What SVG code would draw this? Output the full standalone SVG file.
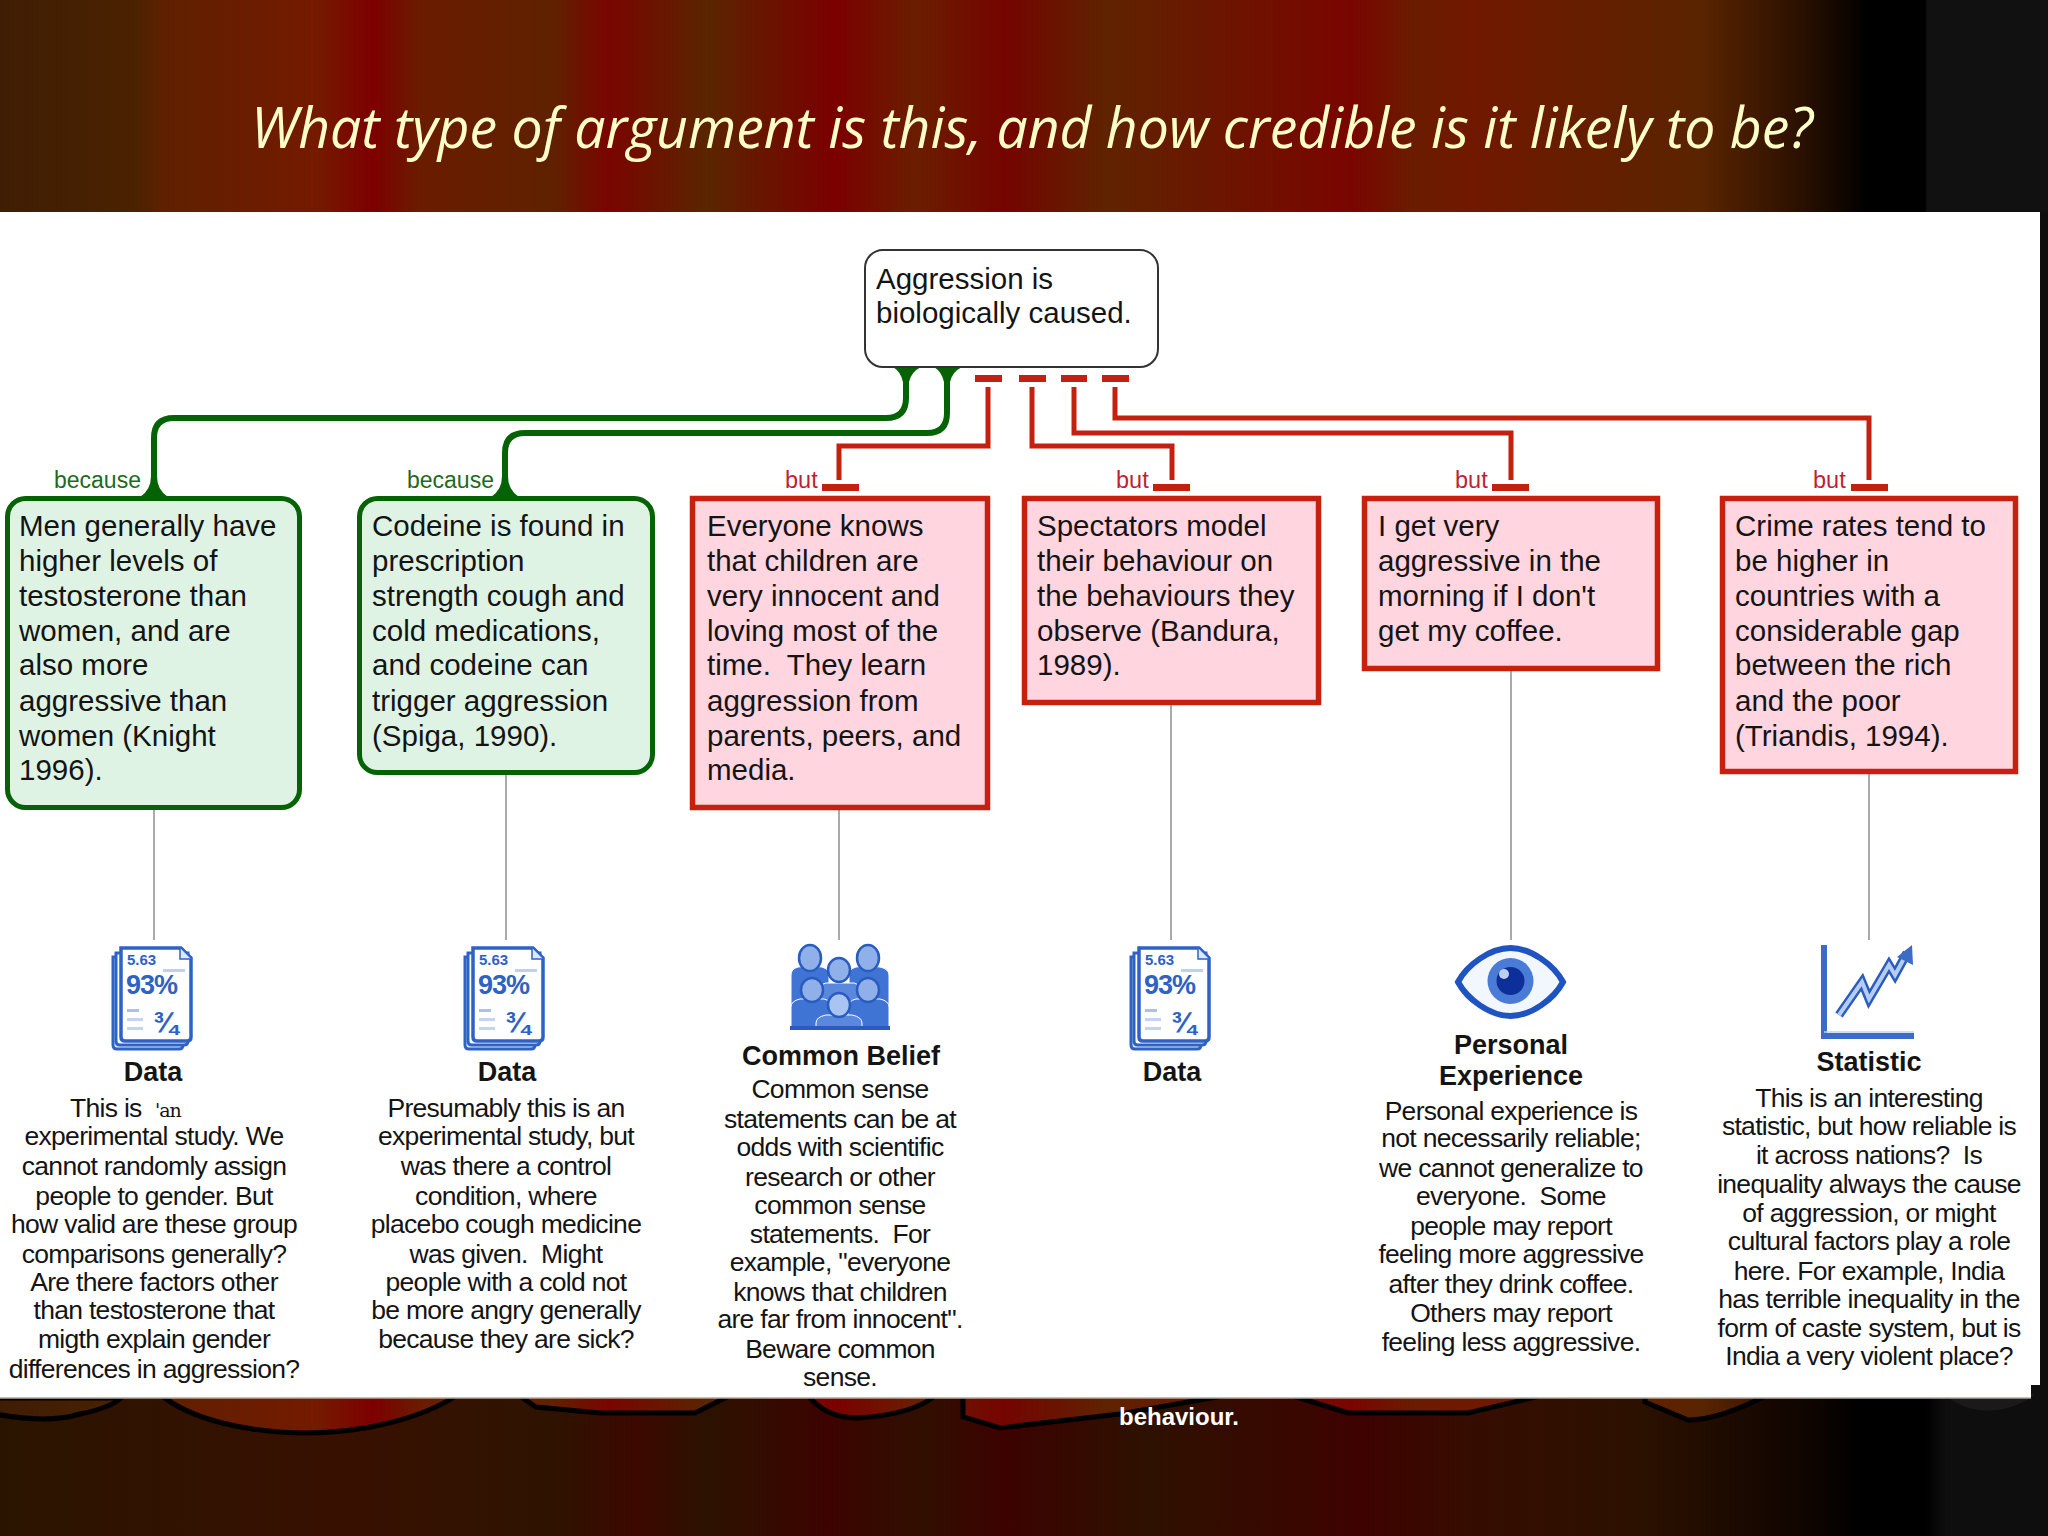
<svg xmlns="http://www.w3.org/2000/svg" xmlns:xlink="http://www.w3.org/1999/xlink" width="2048" height="1536" viewBox="0 0 2048 1536">
<style>
.boxt{font:29.5px "Liberation Sans",Arial,sans-serif;fill:#141414}
.desc{font:26.5px "Liberation Sans",Arial,sans-serif;fill:#141414;text-anchor:middle;letter-spacing:-.7px}
.ttl{font:bold 27px "Liberation Sans",Arial,sans-serif;fill:#141414;text-anchor:middle}
.because{font:23px "Liberation Sans",Arial,sans-serif;fill:#1d6b1d}
.but{font:23.5px "Liberation Sans",Arial,sans-serif;fill:#c01f35}
.g{fill:none;stroke:#056305;stroke-width:5}
.gh{fill:none;stroke:#056305;stroke-width:6}
.r{fill:none;stroke:#c3200f;stroke-width:5}
.rb{fill:#c3200f}
.gl{stroke:#aaa;stroke-width:2}
.gbox{fill:#dff3e4;stroke:#056305;stroke-width:5}
.rbox{fill:#ffd5df;stroke:#c8200f;stroke-width:5.5}
.sc{stroke:#000;stroke-width:5;fill:url(#bright)}
.ic{font-family:"Liberation Sans",Arial,sans-serif;font-weight:bold;fill:#2e62c4}
</style>
<defs>
<linearGradient id="bright" gradientUnits="userSpaceOnUse" x1="0" y1="0" x2="2048" y2="0">
<stop offset="0" stop-color="#3f1d04"/><stop offset=".065" stop-color="#4a2200"/><stop offset=".08" stop-color="#5f2000"/><stop offset=".155" stop-color="#741a00"/><stop offset=".182" stop-color="#7d0000"/><stop offset=".205" stop-color="#6a1c00"/><stop offset=".27" stop-color="#5f2100"/><stop offset=".297" stop-color="#7a0500"/><stop offset=".345" stop-color="#5a2500"/><stop offset=".408" stop-color="#7b0000"/><stop offset=".447" stop-color="#6a1e00"/><stop offset=".49" stop-color="#750400"/><stop offset=".54" stop-color="#5f2300"/><stop offset=".66" stop-color="#7a0500"/><stop offset=".69" stop-color="#6a1c00"/><stop offset=".72" stop-color="#701800"/><stop offset=".83" stop-color="#5a2400"/><stop offset=".88" stop-color="#2a1000"/><stop offset=".912" stop-color="#000"/><stop offset=".94" stop-color="#000"/><stop offset=".941" stop-color="#111"/><stop offset="1" stop-color="#111"/>
</linearGradient>
<linearGradient id="dark" gradientUnits="userSpaceOnUse" x1="0" y1="0" x2="2048" y2="0">
<stop offset="0" stop-color="#2a1400"/><stop offset=".17" stop-color="#381000"/><stop offset=".27" stop-color="#2e1300"/><stop offset=".31" stop-color="#3c0800"/><stop offset=".345" stop-color="#2c1200"/><stop offset=".405" stop-color="#3c0300"/><stop offset=".45" stop-color="#300f00"/><stop offset=".49" stop-color="#3c0200"/><stop offset=".56" stop-color="#2e1100"/><stop offset=".665" stop-color="#3e0200"/><stop offset=".72" stop-color="#350d00"/><stop offset=".8" stop-color="#2c1100"/><stop offset=".88" stop-color="#100500"/><stop offset=".91" stop-color="#000"/><stop offset=".94" stop-color="#000"/><stop offset=".95" stop-color="#0e0e0e"/><stop offset="1" stop-color="#0e0e0e"/>
</linearGradient>
<symbol id="dataIcon" viewBox="0 0 80 104" width="80" height="104" overflow="visible">
<path d="M0 12V100Q0 104 4 104H66Q70 104 70 100V12Z" fill="#dfe8f8" stroke="#2e62c4" stroke-width="3"/>
<path d="M3 8V96Q3 100 7 100H71Q75 100 75 96V8Z" fill="#fff" stroke="#2e62c4" stroke-width="3"/>
<path d="M8 3H68L78 13V92Q78 96 74 96H12Q8 96 8 92Z" fill="#fff" stroke="#2e62c4" stroke-width="3.5"/>
<path d="M67 3V14H78" fill="#dfe8f8" stroke="#2e62c4" stroke-width="1.5"/>
<text class="ic" x="14" y="20" font-size="15">5.63</text>
<rect x="50" y="24" width="22" height="3" fill="#bcd0f0"/>
<text class="ic" x="13" y="49" font-size="27" letter-spacing="-1">93%</text>
<text class="ic" x="40" y="88" font-size="30">¾</text>
<rect x="14" y="64" width="12" height="3" fill="#a9c2ec"/><rect x="14" y="73" width="16" height="3" fill="#c4d5f2"/><rect x="14" y="82" width="16" height="3" fill="#c4d5f2"/>
</symbol>
</defs>

<g id="background">
<rect x="0" y="0" width="2048" height="1536" fill="url(#dark)"/>
<rect x="0" y="0" width="2048" height="212" fill="url(#bright)"/>
<path class="sc" d="M-5 1398V1414Q48 1424 80 1414Q110 1408 121 1398Z"/>
<path class="sc" d="M160 1394C190 1420 250 1433 306 1433C360 1433 420 1420 459 1394Z"/>
<path class="sc" d="M517 1394L536 1407L600 1413H695L733 1394Z"/>
<path class="sc" d="M807 1394C820 1412 840 1418 858 1418C890 1416 920 1410 937 1394Z"/>
<path class="sc" d="M963 1394V1417L1000 1428L1120 1414L1234 1394Z"/>
<path class="sc" d="M1287 1394L1348 1413H1468L1548 1394Z"/>
<path class="sc" d="M1645 1394V1402L1688 1420Q1720 1420 1769 1394Z"/>
<path d="M1945 1394C1965 1416 2010 1416 2035 1394Z" fill="#1a1a1a"/>
<text x="1135" y="1389" font-family="'Liberation Sans',Arial,sans-serif" font-weight="bold" font-size="24" fill="#fff">gg</text>
<text x="1119" y="1425" font-family="'Liberation Sans',Arial,sans-serif" font-weight="bold" font-size="24" fill="#fff">behaviour.</text>
<path d="M0 212H2040V1385H2031V1398H0Z" fill="#fff"/>
<path d="M0 1398H2031" stroke="#b5a9a0" stroke-width="1.5"/>
</g>

<text id="title" x="251" y="148" font-family="'Open Sans','Noto Sans',sans-serif" font-style="italic" font-size="56" fill="#ffffc8" textLength="1562" lengthAdjust="spacingAndGlyphs">What type of argument is this, and how credible is it likely to be?</text>

<g id="connectors">
<path class="gh" d="M906 378V398Q906 418 886 418H174Q154 418 154 438V490"/>
<path class="gh" d="M947 378V413Q947 433 927 433H525Q505 433 505 453V490"/>
<path fill="#056305" d="M893 367H921Q911 372 909 382H903Q901 372 893 367ZM934 367H962Q952 372 950 382H944Q942 372 934 367Z"/>
<path fill="#056305" d="M140 497Q151 490 151 476H157Q157 490 168 497ZM491 497Q502 490 502 476H508Q508 490 519 497Z"/>
<path class="r" d="M988 387V446H839V480"/>
<path class="r" d="M1032 387V446H1172V480"/>
<path class="r" d="M1074 387V433H1511V480"/>
<path class="r" d="M1115 387V418H1869V480"/>
<rect class="rb" x="975" y="375" width="27" height="7"/><rect class="rb" x="1019" y="375" width="27" height="7"/><rect class="rb" x="1061" y="375" width="26" height="7"/><rect class="rb" x="1102" y="375" width="27" height="7"/>
<rect class="rb" x="822" y="484" width="37" height="7"/><rect class="rb" x="1153" y="484" width="37" height="7"/><rect class="rb" x="1492" y="484" width="37" height="7"/><rect class="rb" x="1851" y="484" width="37" height="7"/>
<line class="gl" x1="154" y1="810" x2="154" y2="940"/><line class="gl" x1="506" y1="775" x2="506" y2="940"/><line class="gl" x1="839" y1="810" x2="839" y2="940"/><line class="gl" x1="1171" y1="705" x2="1171" y2="940"/><line class="gl" x1="1511" y1="671" x2="1511" y2="940"/><line class="gl" x1="1869" y1="774" x2="1869" y2="940"/>
<text class="because" x="54" y="488">because</text><text class="because" x="407" y="488">because</text>
<text class="but" x="785" y="488">but</text><text class="but" x="1116" y="488">but</text><text class="but" x="1455" y="488">but</text><text class="but" x="1813" y="488">but</text>
</g>

<g id="root">
<rect x="865" y="250" width="293" height="117" rx="18" fill="#fff" stroke="#333" stroke-width="2"/>
<text class="boxt" x="876" y="289">Aggression is</text>
<text class="boxt" x="876" y="323">biologically caused.</text>
</g>

<g id="node-1">
<rect class="gbox" x="7.5" y="498.5" width="292" height="309" rx="18"/>
<text class="boxt" x="19" y="536">Men generally have</text><text class="boxt" x="19" y="571">higher levels of</text><text class="boxt" x="19" y="606">testosterone than</text><text class="boxt" x="19" y="641">women, and are</text><text class="boxt" x="19" y="675">also more</text><text class="boxt" x="19" y="711">aggressive than</text><text class="boxt" x="19" y="746">women (Knight</text><text class="boxt" x="19" y="780">1996).</text>
</g>
<g id="node-2">
<rect class="gbox" x="359.5" y="498.5" width="293" height="274" rx="18"/>
<text class="boxt" x="372" y="536">Codeine is found in</text><text class="boxt" x="372" y="571">prescription</text><text class="boxt" x="372" y="606">strength cough and</text><text class="boxt" x="372" y="641">cold medications,</text><text class="boxt" x="372" y="675">and codeine can</text><text class="boxt" x="372" y="711">trigger aggression</text><text class="boxt" x="372" y="746">(Spiga, 1990).</text>
</g>
<g id="node-3">
<rect class="rbox" x="692.5" y="498.5" width="295" height="309"/>
<text class="boxt" x="707" y="536">Everyone knows</text><text class="boxt" x="707" y="571">that children are</text><text class="boxt" x="707" y="606">very innocent and</text><text class="boxt" x="707" y="641">loving most of the</text><text class="boxt" x="707" y="675" xml:space="preserve">time.  They learn</text><text class="boxt" x="707" y="711">aggression from</text><text class="boxt" x="707" y="746">parents, peers, and</text><text class="boxt" x="707" y="780">media.</text>
</g>
<g id="node-4">
<rect class="rbox" x="1024.5" y="498.5" width="294" height="204"/>
<text class="boxt" x="1037" y="536">Spectators model</text><text class="boxt" x="1037" y="571">their behaviour on</text><text class="boxt" x="1037" y="606">the behaviours they</text><text class="boxt" x="1037" y="641">observe (Bandura,</text><text class="boxt" x="1037" y="675">1989).</text>
</g>
<g id="node-5">
<rect class="rbox" x="1364.5" y="498.5" width="293" height="170"/>
<text class="boxt" x="1378" y="536">I get very</text><text class="boxt" x="1378" y="571">aggressive in the</text><text class="boxt" x="1378" y="606">morning if I don't</text><text class="boxt" x="1378" y="641">get my coffee.</text>
</g>
<g id="node-6">
<rect class="rbox" x="1722.5" y="498.5" width="293" height="273"/>
<text class="boxt" x="1735" y="536">Crime rates tend to</text><text class="boxt" x="1735" y="571">be higher in</text><text class="boxt" x="1735" y="606">countries with a</text><text class="boxt" x="1735" y="641">considerable gap</text><text class="boxt" x="1735" y="675">between the rich</text><text class="boxt" x="1735" y="711">and the poor</text><text class="boxt" x="1735" y="746">(Triandis, 1994).</text>
</g>

<g id="basis-1">
<use href="#dataIcon" x="113" y="945"/>
<text class="ttl" x="153" y="1081">Data</text>
<text class="desc" x="70" y="1117" style="text-anchor:start">This is</text><text x="155" y="1117" font-family="'DejaVu Serif',serif" font-size="19" letter-spacing="-1" fill="#141414">'an</text>
<text class="desc" x="154" y="1145">experimental study.  We</text><text class="desc" x="154" y="1175">cannot randomly assign</text><text class="desc" x="154" y="1205">people to gender.  But</text><text class="desc" x="154" y="1233">how valid are these group</text><text class="desc" x="154" y="1263">comparisons generally?</text><text class="desc" x="154" y="1291">Are there factors other</text><text class="desc" x="154" y="1319">than testosterone that</text><text class="desc" x="154" y="1348">migth explain gender</text><text class="desc" x="154" y="1378">differences in aggression?</text>
</g>
<g id="basis-2">
<use href="#dataIcon" x="465" y="945"/>
<text class="ttl" x="507" y="1081">Data</text>
<text class="desc" x="506" y="1117">Presumably this is an</text><text class="desc" x="506" y="1145">experimental study, but</text><text class="desc" x="506" y="1175">was there a control</text><text class="desc" x="506" y="1205">condition, where</text><text class="desc" x="506" y="1233">placebo cough medicine</text><text class="desc" x="506" y="1263" xml:space="preserve">was given.  Might</text><text class="desc" x="506" y="1291">people with a cold not</text><text class="desc" x="506" y="1319">be more angry generally</text><text class="desc" x="506" y="1348">because they are sick?</text>
</g>
<g id="basis-3">
<g transform="translate(790 945)" stroke="#fff" stroke-width="1">
<path d="M1 62V30Q1 24 8 22Q20 20 32 22Q39 24 39 30V62Z" fill="#3f73d4"/>
<path d="M59 62V30Q59 24 66 22Q78 20 90 22Q99 24 99 30V62Z" fill="#3f73d4"/>
<ellipse cx="20" cy="13" rx="11" ry="13" fill="#8fb0e8" stroke="#2a5cc0" stroke-width="2.5"/><ellipse cx="78" cy="13" rx="11" ry="13" fill="#8fb0e8" stroke="#2a5cc0" stroke-width="2.5"/>
<path d="M28 62V46Q28 40 36 38H64Q71 40 71 46V62Z" fill="#5a88dc"/>
<ellipse cx="49" cy="25" rx="11" ry="12" fill="#8fb0e8" stroke="#2a5cc0" stroke-width="2.5"/>
<path d="M1 85V62Q1 56 10 54H34Q42 56 42 62V85Z" fill="#3f73d4"/><path d="M58 85V62Q58 56 66 54H90Q99 56 99 62V85Z" fill="#3f73d4"/>
<ellipse cx="22" cy="45" rx="11" ry="12" fill="#8fb0e8" stroke="#2a5cc0" stroke-width="2.5"/><ellipse cx="78" cy="45" rx="11" ry="12" fill="#8fb0e8" stroke="#2a5cc0" stroke-width="2.5"/>
<path d="M26 85V78Q26 72 36 70H62Q72 72 72 78V85Z" fill="#5a88dc"/>
<ellipse cx="49" cy="60" rx="11" ry="12" fill="#a9c4f0" stroke="#2a5cc0" stroke-width="2.5"/>
<rect x="0" y="81" width="100" height="4" fill="#2a5cc0" stroke="none"/>
</g>
<text class="ttl" x="841" y="1065">Common Belief</text>
<text class="desc" x="840" y="1098">Common sense</text><text class="desc" x="840" y="1128">statements can be at</text><text class="desc" x="840" y="1156">odds with scientific</text><text class="desc" x="840" y="1186">research or other</text><text class="desc" x="840" y="1214">common sense</text><text class="desc" x="840" y="1243" xml:space="preserve">statements.  For</text><text class="desc" x="840" y="1271">example, "everyone</text><text class="desc" x="840" y="1301">knows that children</text><text class="desc" x="840" y="1328">are far from innocent".</text><text class="desc" x="840" y="1358">Beware common</text><text class="desc" x="840" y="1386">sense.</text>
</g>
<g id="basis-4">
<use href="#dataIcon" x="1131" y="945"/>
<text class="ttl" x="1172" y="1081">Data</text>
</g>
<g id="basis-5">
<g transform="translate(1455 945)">
<path d="M3 37C12 20 35 3 55.500 3C76 3 99 20 108 37C99 54 76 71 55.500 71C35 71 12 54 3 37Z" fill="#f2f6fd" stroke="#1f54c0" stroke-width="6"/>
<circle cx="55.500" cy="36" r="23" fill="#4a7bd6"/><circle cx="55.500" cy="36" r="14" fill="#0d2f9a"/><circle cx="49" cy="29" r="5" fill="#bcd0f0"/>
</g>
<text class="ttl" x="1511" y="1054">Personal</text><text class="ttl" x="1511" y="1085">Experience</text>
<text class="desc" x="1511" y="1120">Personal experience is</text><text class="desc" x="1511" y="1147">not necessarily reliable;</text><text class="desc" x="1511" y="1177">we cannot generalize to</text><text class="desc" x="1511" y="1205" xml:space="preserve">everyone.  Some</text><text class="desc" x="1511" y="1235">people may report</text><text class="desc" x="1511" y="1263">feeling more aggressive</text><text class="desc" x="1511" y="1293">after they drink coffee.</text><text class="desc" x="1511" y="1322">Others may report</text><text class="desc" x="1511" y="1351">feeling less aggressive.</text>
</g>
<g id="basis-6">
<g transform="translate(1821 945)">
<path d="M3 0V91H93" fill="none" stroke="#3a6cc8" stroke-width="6"/><path d="M3 87H93" stroke="#bcd0f0" stroke-width="1.500"/>
<path d="M18 70L41 37L48 54L68 20L74 30L86 8" fill="none" stroke="#2a5cc0" stroke-width="9"/>
<path d="M18 70L41 37L48 54L68 20L74 30L86 8" fill="none" stroke="#b6cdf2" stroke-width="4"/>
<path d="M91 0L92 20L76 12Z" fill="#3a6cc8"/>
</g>
<text class="ttl" x="1869" y="1071">Statistic</text>
<text class="desc" x="1869" y="1107">This is an interesting</text><text class="desc" x="1869" y="1135">statistic, but how reliable is</text><text class="desc" x="1869" y="1164" xml:space="preserve">it across nations?  Is</text><text class="desc" x="1869" y="1193">inequality always the cause</text><text class="desc" x="1869" y="1222">of aggression, or might</text><text class="desc" x="1869" y="1250">cultural factors play a role</text><text class="desc" x="1869" y="1280">here. For example, India</text><text class="desc" x="1869" y="1308">has terrible inequality in the</text><text class="desc" x="1869" y="1337">form of caste system, but is</text><text class="desc" x="1869" y="1365">India a very violent place?</text>
</g>
</svg>
